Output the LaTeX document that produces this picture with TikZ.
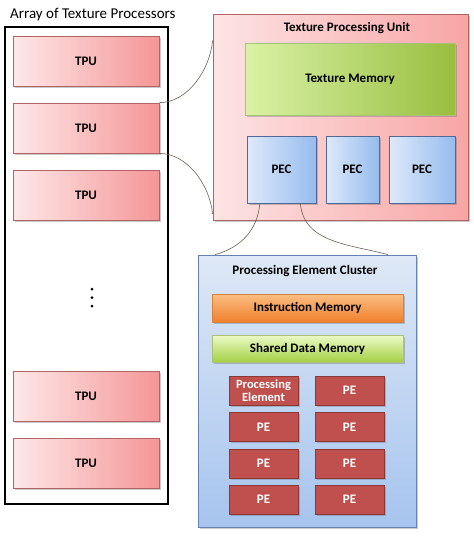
\documentclass[tikz,border=0pt]{standalone}
\usepackage{fontspec}
\setmainfont{Carlito}
\usetikzlibrary{shadows,calc}
\definecolor{tpuL}{RGB}{253,232,232}
\definecolor{tpuR}{RGB}{245,150,150}
\definecolor{tpuB}{RGB}{176,100,100}
\definecolor{bigL}{RGB}{253,228,228}
\definecolor{bigR}{RGB}{248,165,165}
\definecolor{grL}{RGB}{218,242,165}
\definecolor{grR}{RGB}{152,190,64}
\definecolor{grB}{RGB}{170,195,120}
\definecolor{peL}{RGB}{222,233,250}
\definecolor{peR}{RGB}{150,188,238}
\definecolor{peB}{RGB}{80,105,150}
\definecolor{clT}{RGB}{222,232,246}
\definecolor{clBo}{RGB}{166,196,238}
\definecolor{clB}{RGB}{100,130,180}
\definecolor{orT}{RGB}{250,190,130}
\definecolor{orB}{RGB}{240,128,45}
\definecolor{orBd}{RGB}{215,130,60}
\definecolor{sgT}{RGB}{236,250,200}
\definecolor{sgB}{RGB}{165,208,70}
\definecolor{peFill}{RGB}{192,80,77}
\definecolor{peBd}{RGB}{140,56,54}
\definecolor{conn}{RGB}{110,95,80}
\tikzset{
  shd/.style={drop shadow={shadow xshift=1.5pt,shadow yshift=-1.5pt,opacity=0.35,fill=black!60}},
  boldtxt/.style={font=\fontsize{13}{15}\selectfont\bfseries},
  tpubox/.style={draw=tpuB,line width=0.8pt,left color=tpuL,right color=tpuR,minimum width=146pt,minimum height=50pt,inner sep=0pt,boldtxt,shd},
  bigbox/.style={draw=tpuB,line width=0.8pt,left color=bigL,right color=bigR,minimum width=255pt,minimum height=206pt,inner sep=0pt,shd},
  texmem/.style={draw=grB,line width=0.8pt,left color=grL,right color=grR,minimum width=210pt,minimum height=72pt,inner sep=0pt,boldtxt,shd},
  pecbox/.style={draw=peB,line width=0.8pt,left color=peL,right color=peR,minimum height=67pt,inner sep=0pt,boldtxt,shd},
  clbox/.style={draw=clB,line width=0.8pt,top color=clT,bottom color=clBo,minimum width=218pt,minimum height=272pt,inner sep=0pt,shd},
  instbox/.style={draw=orBd,line width=0.6pt,top color=orT,bottom color=orB,minimum width=191pt,minimum height=28pt,inner sep=0pt,boldtxt,shd},
  sharedbox/.style={draw=grB,line width=0.6pt,top color=sgT,bottom color=sgB,minimum width=191pt,minimum height=27pt,inner sep=0pt,boldtxt,shd},
  pebox/.style={draw=peBd,line width=1pt,fill=peFill,minimum width=69pt,minimum height=29pt,inner sep=0pt,text=white,boldtxt,shd},
  titletxt/.style={boldtxt,inner sep=0pt},
  connline/.style={draw=conn,line width=0.6pt}
}
\begin{document}
\begin{tikzpicture}[x=1pt,y=-1pt]
\useasboundingbox (0,0) rectangle (474,536);
\node[anchor=west,inner sep=0pt,font=\fontsize{15}{17}\selectfont] (arrtitle) at (10,15) {Array of Texture Processors};
\node[draw=black,line width=2.5pt,minimum width=163pt,minimum height=477pt,inner sep=0pt] (array) at (86.5,265.5) {};
\node[tpubox] (tpu1) at (86,61) {TPU};
\node[tpubox] (tpu2) at (86,128) {TPU};
\node[tpubox] (tpu3) at (86,195) {TPU};
\foreach \yy in {289,297.5,306} \fill[black] (92,\yy) circle (1.5);
\node[tpubox] (tpu4) at (86,396) {TPU};
\node[tpubox] (tpu5) at (86,463) {TPU};
% Texture processing unit
\node[bigbox] (big) at (340.5,117) {};
\node[titletxt] (bigtitle) at (347,28) {Texture Processing Unit};
\node[texmem] (texmem) at (350,79) {Texture Memory};
\node[pecbox,minimum width=69pt] (pec1) at (281.5,169.5) {PEC};
\node[pecbox,minimum width=53pt] (pec2) at (352.5,169.5) {PEC};
\node[pecbox,minimum width=66pt] (pec3) at (422,169.5) {PEC};
% cluster
\node[clbox] (cluster) at (307,391) {};
\node[titletxt] (cltitle) at (305,271) {Processing Element Cluster};
\node[instbox] (inst) at (307.5,308) {Instruction Memory};
\node[sharedbox] (shared) at (307.5,348.5) {Shared Data Memory};
\node[pebox,align=center,font=\fontsize{12.5}{13}\selectfont\bfseries] (pe11) at (263.5,390.5) {Processing\\Element};
\node[pebox] (pe12) at (349.5,390.5) {PE};
\node[pebox] (pe21) at (263.5,427) {PE};
\node[pebox] (pe22) at (349.5,427) {PE};
\node[pebox] (pe31) at (263.5,463.5) {PE};
\node[pebox] (pe32) at (349.5,463.5) {PE};
\node[pebox] (pe41) at (263.5,499.5) {PE};
\node[pebox] (pe42) at (349.5,499.5) {PE};
% connectors
\coordinate (bigA) at ($(big.north west)!0.13!(big.south west)$);
\coordinate (bigB) at ($(big.north west)!0.97!(big.south west)$);
\path[connline] (tpu2.north east) to[out=0,in=-95,looseness=0.9] (bigA);
\path[connline] (tpu2.south east) to[out=0,in=95,looseness=0.9] (bigB);
\coordinate (pecA) at ($(pec1.south west)!0.19!(pec1.south east)$);
\coordinate (pecB) at ($(pec1.south west)!0.77!(pec1.south east)$);
\coordinate (clA) at ($(cluster.north west)!0.08!(cluster.north east)$);
\coordinate (clB) at ($(cluster.north west)!0.87!(cluster.north east)$);
\path[connline] (pecA) to[out=-95,in=15] (clA);
\path[connline] (pecB) to[out=-85,in=165] (clB);
\end{tikzpicture}
\end{document}
